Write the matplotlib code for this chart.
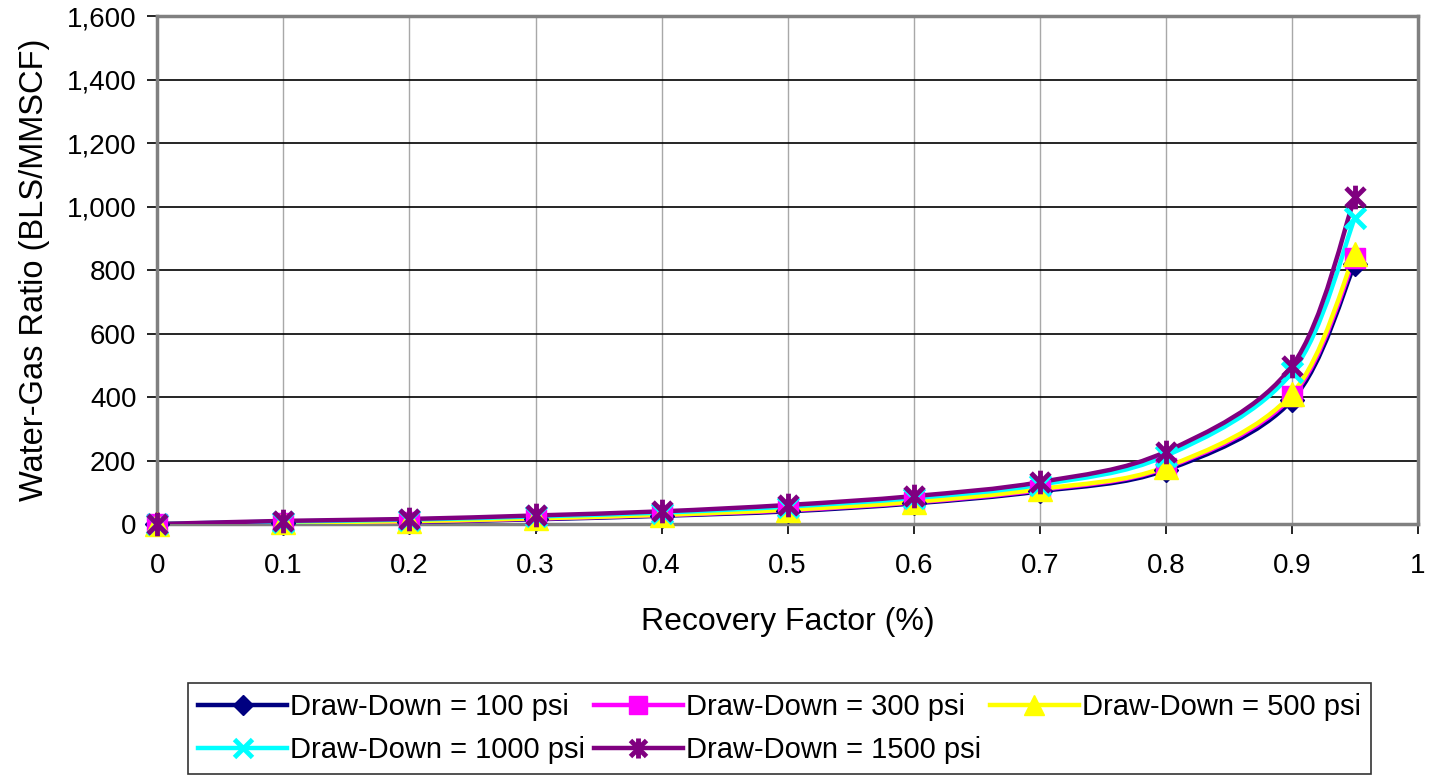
import matplotlib
matplotlib.use("Agg")
import matplotlib.pyplot as plt
import numpy as np
from matplotlib.path import Path
from matplotlib.patches import PathPatch
from matplotlib.lines import Line2D
from matplotlib.ticker import FuncFormatter, MultipleLocator

plt.rcParams['font.family'] = ['Liberation Sans', 'DejaVu Sans']

# ---- data ----
recovery = [0, 0.1, 0.2, 0.3, 0.4, 0.5, 0.6, 0.7, 0.8, 0.9, 0.95]
wgr_100 = [0, 3, 7, 15, 26, 40, 65, 103, 170, 390, 820]
wgr_300 = [0, 4, 8, 17, 28, 43, 68, 107, 177, 402, 838]
wgr_500 = [0, 5, 9, 18, 29, 45, 70, 110, 180, 410, 852]
wgr_1000 = [0, 8, 14, 24, 36, 55, 82, 124, 215, 478, 965]
wgr_1500 = [0, 10, 16, 27, 40, 60, 88, 132, 228, 498, 1030]
labels = ["Draw-Down = 100 psi", "Draw-Down = 300 psi", "Draw-Down = 500 psi",
          "Draw-Down = 1000 psi", "Draw-Down = 1500 psi"]
series = [wgr_100, wgr_300, wgr_500, wgr_1000, wgr_1500]
colors = ["#000080", "#FF00FF", "#FFFF00", "#00FFFF", "#800080"]

# Excel-like star marker (X plus vertical bar)
star = Path([(-1, -1), (1, 1), (-1, 1), (1, -1), (0, -1.25), (0, 1.25)],
            [Path.MOVETO, Path.LINETO, Path.MOVETO, Path.LINETO, Path.MOVETO, Path.LINETO])
markers = ["D", "s", "^", "x", star]
msizes = [12, 15, 17, 15, 17]
mews = [1, 1, 1, 3.5, 3.5]


def smooth_path(xs, ys):
    pts = np.column_stack([xs, ys]).astype(float)
    n = len(pts)
    verts = [pts[0]]
    codes = [Path.MOVETO]
    for i in range(n - 1):
        p0 = pts[i - 1] if i > 0 else pts[i]
        p1 = pts[i]
        p2 = pts[i + 1]
        p3 = pts[i + 2] if i + 2 < n else pts[i + 1]
        c1 = p1 + (p2 - p0) / 6.0
        c2 = p2 - (p3 - p1) / 6.0
        verts += [c1, c2, p2]
        codes += [Path.CURVE4] * 3
    return Path(verts, codes)


fig = plt.figure(figsize=(14.3, 7.81), dpi=100)
ax = fig.add_axes([0.110, 0.329, 0.8816, 0.6505])

handles = []
for ys, c, m, ms, mew, lab in zip(series, colors, markers, msizes, mews, labels):
    patch = PathPatch(smooth_path(recovery, ys), facecolor='none', edgecolor=c,
                      lw=3.2, zorder=3, capstyle='round', joinstyle='round')
    ax.add_patch(patch)
    ax.plot(recovery, ys, linestyle='none', marker=m, markersize=ms,
            markerfacecolor=c, markeredgecolor=c, markeredgewidth=mew, zorder=4,
            clip_on=False)
    handles.append(Line2D([], [], color=c, lw=3.2, marker=m, markersize=ms * 0.85,
                          markerfacecolor=c, markeredgecolor=c, markeredgewidth=mew))

ax.set_xlim(0, 1)
ax.set_ylim(0, 1600)
ax.xaxis.set_major_locator(MultipleLocator(0.1))
ax.yaxis.set_major_locator(MultipleLocator(200))
ax.xaxis.set_major_formatter(FuncFormatter(lambda v, p: f"{v:.1f}".rstrip('0').rstrip('.') if v not in (0, 1) else f"{int(round(v))}"))
ax.yaxis.set_major_formatter(FuncFormatter(lambda v, p: f"{int(v):,}"))

ax.grid(axis='y', color='black', lw=1.2, zorder=1)
ax.grid(axis='x', color='#a8a8a8', lw=1.0, zorder=1)
ax.set_axisbelow(True)

for s in ax.spines.values():
    s.set_color('#808080')
    s.set_linewidth(2.5)

ax.tick_params(axis='both', direction='out', length=7, width=1.2, color='black',
               labelsize=20, labelcolor='black')
ax.tick_params(axis='x', pad=14)
ax.tick_params(axis='y', pad=8)

ax.set_xlabel("Recovery Factor (%)", fontsize=23, labelpad=20)
ax.set_ylabel("Water-Gas Ratio (BLS/MMSCF)", fontsize=23.5, labelpad=12)

# row-wise legend order (matplotlib fills columns first)
order = [0, 3, 1, 4, 2]
leg = fig.legend([handles[i] for i in order], [labels[i] for i in order], ncol=3,
                 loc='upper left', bbox_to_anchor=(0.1315, 0.1255), fontsize=21,
                 frameon=True, fancybox=False, edgecolor='black',
                 handlelength=3.05, handletextpad=0.1, columnspacing=0.3,
                 borderpad=0.35, labelspacing=0.5, borderaxespad=0)
leg.get_frame().set_linewidth(1.2)

fig.savefig("out.png", dpi=100)
